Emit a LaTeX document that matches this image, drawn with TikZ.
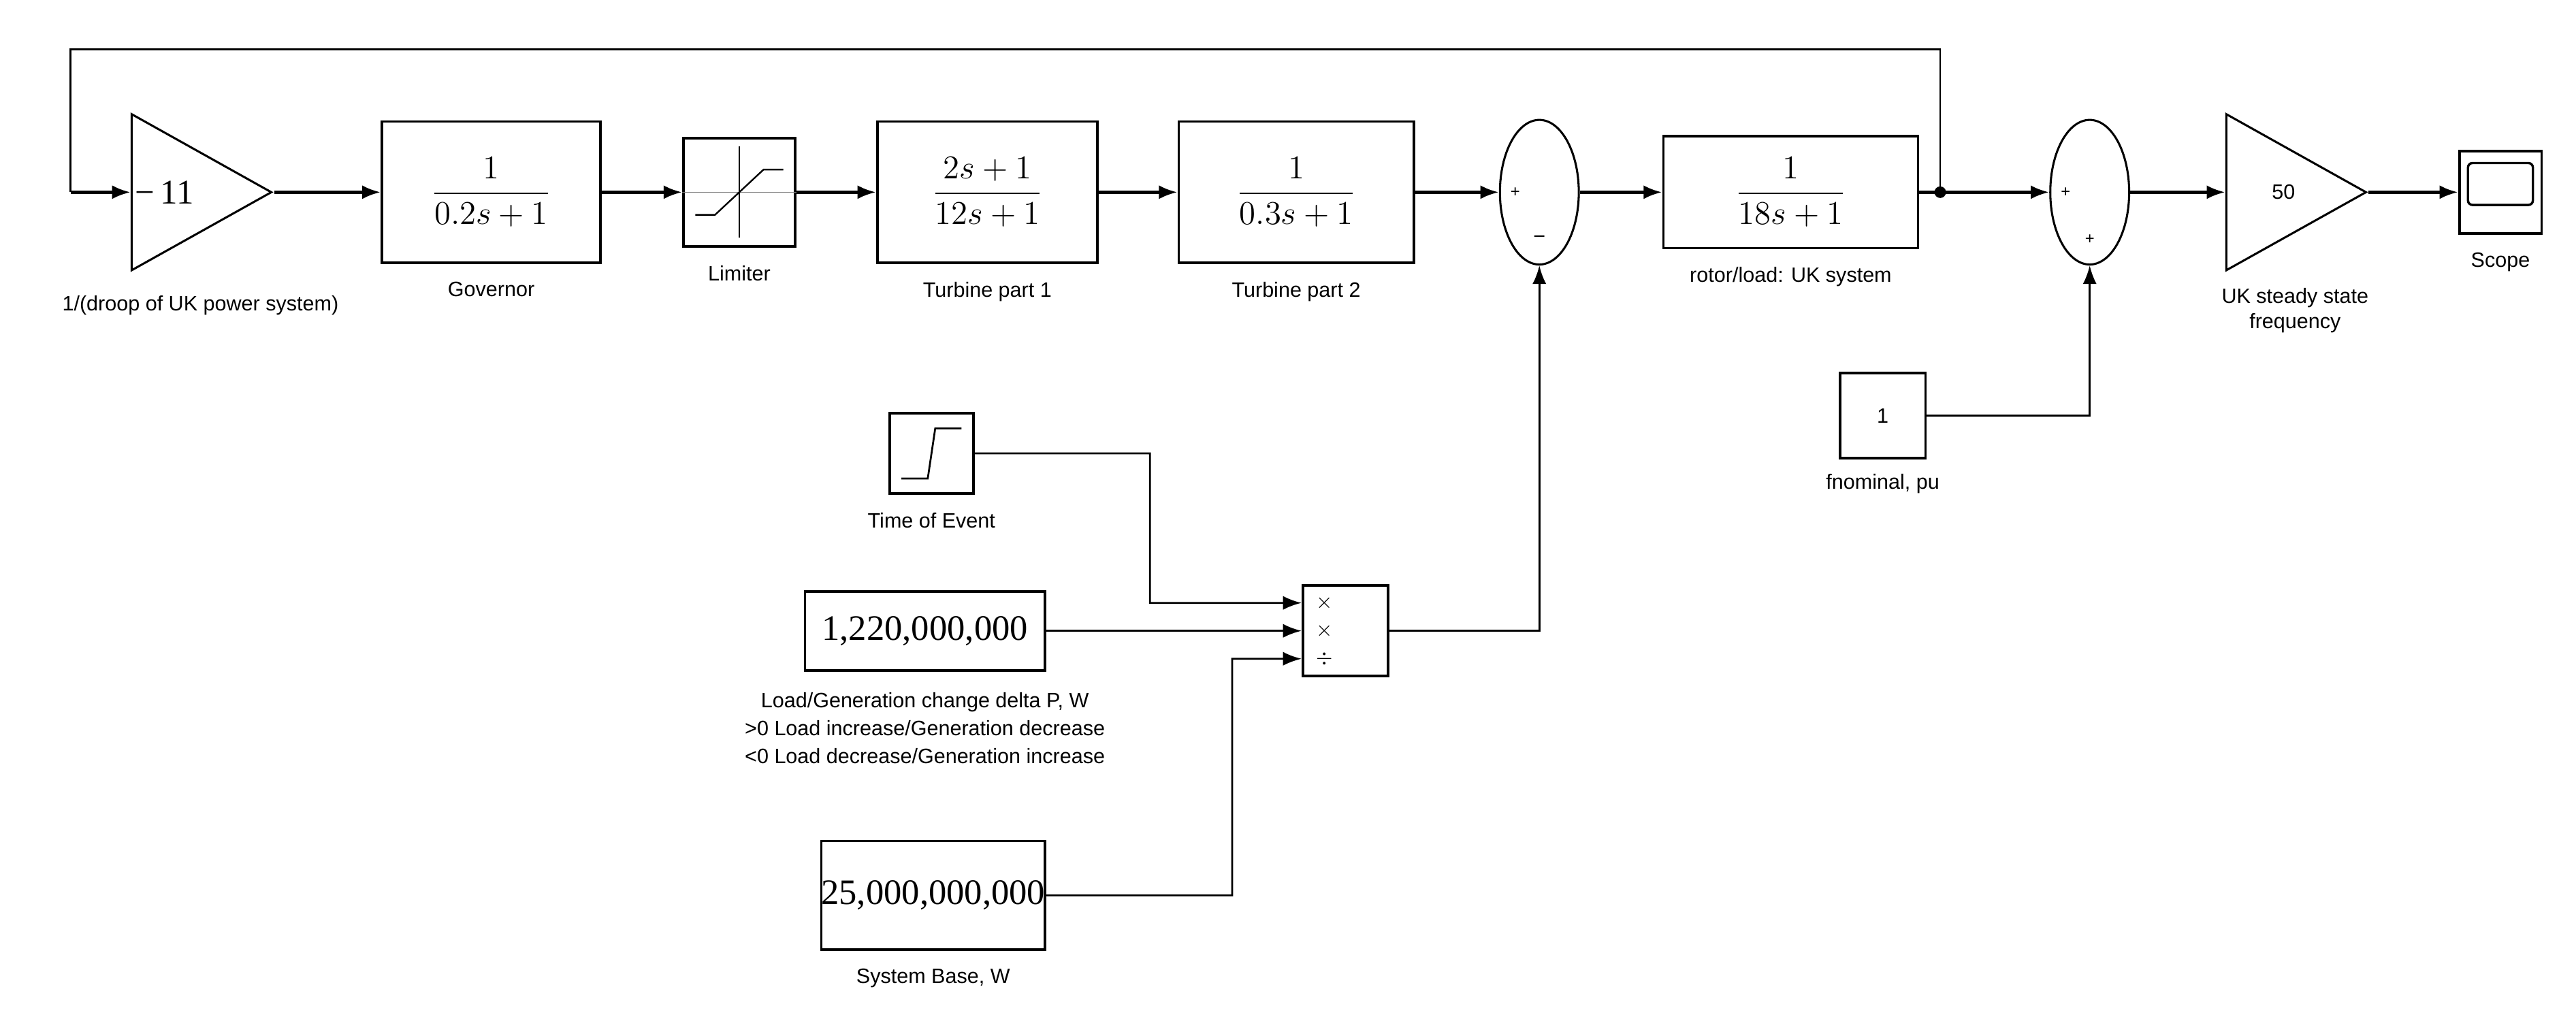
\documentclass[tikz,border=0pt]{standalone}
\usepackage{fontspec}
\setmainfont{Liberation Sans}
\newfontfamily\numfont{Liberation Serif}
\usepackage{amsmath}
\usetikzlibrary{positioning,shapes.geometric,arrows.meta}

\tikzset{
  blk/.style={draw, line width=1.1pt, fill=white, inner sep=0pt},
  sumblk/.style={draw, ellipse, line width=0.9pt, fill=white, minimum width=1.2cm, minimum height=2.2cm, inner sep=0pt},
  gain/.style={draw, isosceles triangle, isosceles triangle stretches, shape border rotate=0, line width=0.9pt, fill=white, minimum height=2.125cm, minimum width=2.375cm, inner sep=0pt},
  lbl/.style={font=\fontsize{9}{11}\selectfont, align=center},
  sig/.style={line width=1.3pt, -{Latex[length=8pt,width=6pt]}},
  lin/.style={line width=1.3pt}
}

\begin{document}
\begin{tikzpicture}[x=0.025cm, y=-0.025cm]
    \useasboundingbox (0,0) rectangle (1568,619);

    % forward path
    \node[gain] (droop) at (108,117) {};
    \node at (100,117) {\numfont\fontsize{15}{17}\selectfont −\,11};
    \node[lbl] at (122,186) {1/(droop of UK power system)};

    \node[blk, minimum width=3.325cm, minimum height=2.15cm] (gov) at (299,117) {\Large$\dfrac{1}{0.2s+1}$};
    \node[lbl, below=0.15cm of gov] {Governor};

    \node[blk, minimum width=1.7cm, minimum height=1.65cm] (lim) at (450,117) {};
    \draw[gray] (lim.west) -- (lim.east);
    \draw[thin] ([yshift=-0.15cm]lim.north) -- ([yshift=0.15cm]lim.south);
    \draw[line width=0.7pt] ([xshift=0.2cm,yshift=0.5cm]lim.south west) -- ([xshift=0.5cm,yshift=0.5cm]lim.south west)
        -- ([xshift=-0.5cm,yshift=-0.5cm]lim.north east) -- ([xshift=-0.2cm,yshift=-0.5cm]lim.north east);
    \node[lbl, below=0.15cm of lim] {Limiter};

    \node[blk, minimum width=3.35cm, minimum height=2.15cm] (turb1) at (601,117) {\Large$\dfrac{2s+1}{12s+1}$};
    \node[lbl, below=0.15cm of turb1] {Turbine part 1};

    \node[blk, minimum width=3.575cm, minimum height=2.15cm] (turb2) at (789,117) {\Large$\dfrac{1}{0.3s+1}$};
    \node[lbl, below=0.15cm of turb2] {Turbine part 2};

    \node[sumblk] (sum1) at (937,117) {};
    \node[font=\scriptsize] at ([xshift=0.25cm]sum1.west) {+};
    \node[font=\small] at ([yshift=0.4cm]sum1.south) {−};

    \node[blk, minimum width=3.875cm, minimum height=1.7cm] (rotor) at (1090,117) {\Large$\dfrac{1}{18s+1}$};
    \node[lbl, below=0.15cm of rotor] {rotor/load: UK system};

    \coordinate (br) at (1181,117);
    \fill (br) circle (2.5pt);

    \node[sumblk] (sum2) at (1272,117) {};
    \node[font=\scriptsize] at ([xshift=0.25cm]sum2.west) {+};
    \node[font=\scriptsize] at ([yshift=0.4cm]sum2.south) {+};

    \node[gain] (ukgain) at (1383,117) {};
    \node at (1390,117) {\fontsize{9}{11}\selectfont 50};
    \node[lbl] at (1397,189) {UK steady state\\frequency};

    \node[blk, minimum width=1.25cm, minimum height=1.25cm] (scope) at (1522,117) {};
    \draw[line width=1pt, rounded corners=2pt] ([shift={(0.15cm,-0.2cm)}]scope.north west) rectangle ([shift={(-0.15cm,0.45cm)}]scope.south east);
    \node[lbl, below=0.15cm of scope] {Scope};

    % disturbance path
    \node[blk, minimum width=1.3cm, minimum height=1.3cm] (fnom) at (1146,253) {\fontsize{9}{11}\selectfont 1};
    \node[lbl, below=0.1cm of fnom] {fnominal, pu};

    \node[blk, minimum width=1.275cm, minimum height=1.225cm] (step) at (567,276) {};
    \draw[line width=0.8pt] ([shift={(0.2cm,0.25cm)}]step.south west) -- ([shift={(0.6cm,0.25cm)}]step.south west)
        -- ([shift={(-0.6cm,-0.25cm)}]step.north east) -- ([shift={(-0.2cm,-0.25cm)}]step.north east);
    \node[lbl, below=0.15cm of step] {Time of Event};

    \node[blk, minimum width=3.65cm, minimum height=1.2cm] (dp) at (563,384) {\numfont\fontsize{15.5}{18}\selectfont 1,220,000,000};
    \node[lbl, below=0.2cm of dp] {Load/Generation change delta P, W\\[1pt]>0 Load increase/Generation decrease\\[1pt]<0 Load decrease/Generation increase};

    \node[blk, minimum width=3.4cm, minimum height=1.65cm] (base) at (568,545) {\numfont\fontsize{15.5}{18}\selectfont 25,000,000,000};
    \node[lbl, below=0.15cm of base] {System Base, W};

    \node[blk, minimum width=1.3cm, minimum height=1.375cm] (prod) at (819,384) {};
    \node[font=\small] at ([xshift=0.35cm,yshift=0.425cm]prod.west) {$\times$};
    \node[font=\small] at ([xshift=0.35cm]prod.west) {$\times$};
    \node[font=\small] at ([xshift=0.35cm,yshift=-0.425cm]prod.west) {$\div$};

    % connections
    \draw[sig] (droop.apex) -- (gov);
    \draw[sig] (gov) -- (lim);
    \draw[sig] (lim) -- (turb1);
    \draw[sig] (turb1) -- (turb2);
    \draw[sig] (turb2) -- (sum1);
    \draw[sig] (sum1) -- (rotor);
    \draw[lin] (rotor) -- (br);
    \draw[sig] (br) -- (sum2);
    \draw[sig] (sum2) -- (ukgain.west);
    \draw[sig] (ukgain.apex) -- (scope);
    \draw[line width=0.8pt] (br) -- (1181,30) -- (43,30) -- (43,117);
    \draw[sig] (43,117) -- (droop.west);
    \draw[line width=0.8pt, -{Latex[length=8pt,width=6pt]}] (fnom.east) -| (sum2.south);
    \draw[line width=0.8pt, -{Latex[length=8pt,width=6pt]}] (step.east) -| (700,367) -- ([yshift=0.425cm]prod.west);
    \draw[line width=0.8pt, -{Latex[length=8pt,width=6pt]}] (dp.east) -- (prod.west);
    \draw[line width=0.8pt, -{Latex[length=8pt,width=6pt]}] (base.east) -| (750,401) -- ([yshift=-0.425cm]prod.west);
    \draw[line width=0.8pt, -{Latex[length=8pt,width=6pt]}] (prod.east) -| (sum1.south);
\end{tikzpicture}
\end{document}
